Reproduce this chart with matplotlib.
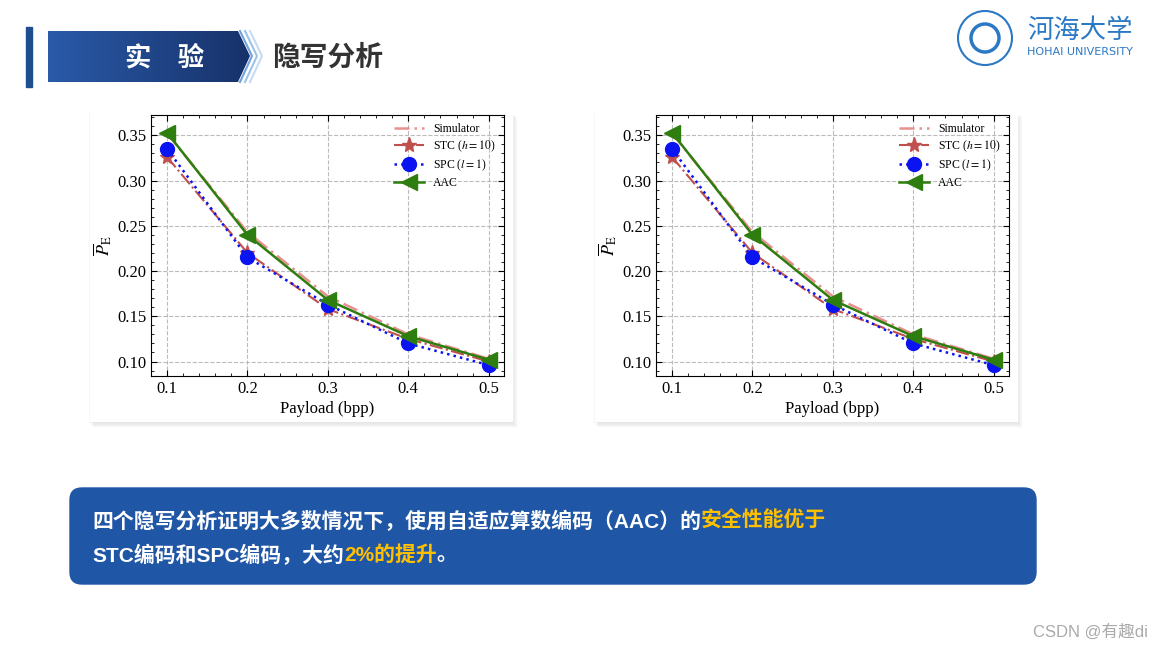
import matplotlib
matplotlib.use("Agg")
import matplotlib.pyplot as plt
from matplotlib.patches import FancyBboxPatch, Rectangle, Polygon
from matplotlib.ticker import AutoMinorLocator
from matplotlib.colors import LinearSegmentedColormap
import numpy as np

payload = [0.1, 0.2, 0.3, 0.4, 0.5]
simulator = [0.352, 0.243, 0.172, 0.130, 0.103]
stc = [0.326, 0.220, 0.158, 0.125, 0.100]
spc = [0.335, 0.215, 0.163, 0.120, 0.096]
aac = [0.353, 0.240, 0.168, 0.128, 0.102]
xticks = [0.1, 0.2, 0.3, 0.4, 0.5]
yticks = [0.10, 0.15, 0.20, 0.25, 0.30, 0.35]

W, H = 1153, 650
fig = plt.figure(figsize=(W/100, H/100), dpi=100)
fig.patch.set_facecolor("white")
plt.rcParams['mathtext.fontset'] = 'stix'
CJK = ['Noto Sans CJK SC', 'DejaVu Sans']
MIX = ['Liberation Sans', 'Noto Sans CJK SC']

def px(x0, y0, w, h):
    return [x0/W, 1-(y0+h)/H, w/W, h/H]

bg = fig.add_axes([0, 0, 1, 1])
bg.set_xlim(0, W); bg.set_ylim(H, 0); bg.axis('off')

# header
bg.add_patch(Rectangle((26, 27), 6, 60, color="#1d4f8f"))
grad = np.linspace(0, 1, 200).reshape(1, -1)
cm = LinearSegmentedColormap.from_list("g", ["#2a5aa8", "#17326a"])
im = bg.imshow(grad, cmap=cm, extent=(48, 250, 82, 31), aspect='auto', zorder=1)
clip = Polygon([(48, 25), (85, 25), (100, 31), (238, 31), (250, 56), (238, 82), (48, 88)], closed=True, transform=bg.transData)
im.set_clip_path(clip)
for i, c in enumerate(["#6fa3dc", "#9cc3ea", "#c4dcf3"]):
    o = 240 + i*5
    bg.plot([o, o+12, o], [31, 56, 82], color=c, lw=1.5)
bg.text(165, 58, "实　验", color="white", fontsize=19, fontweight='bold', family=CJK, ha='center', va='center')
bg.text(272, 58, "隐写分析", color="#333333", fontsize=20, fontweight='bold', family=CJK, va='center')

# logo
bg.add_patch(plt.Circle((985, 38), 27, fill=False, color="#2b78c4", lw=1.5))
bg.add_patch(plt.Circle((985, 38), 14, fill=False, color="#2b78c4", lw=2.5))
bg.text(1080, 30, "河海大学", color="#2b78c4", fontsize=19, family=CJK, ha='center', va='center')
bg.text(1080, 52, "HOHAI UNIVERSITY", color="#2b78c4", fontsize=8, ha='center', va='center')

# chart panels
for x0 in (90, 595):
    for k in range(3):
        bg.add_patch(Rectangle((x0-1+k*2, 113+k*2), 424, 310, color="#777777", alpha=0.08, lw=0, zorder=0))
    bg.add_patch(Rectangle((x0, 113), 422, 308, color="white", zorder=0.5))

def chart(rect):
    ax = fig.add_axes(rect)
    ax.plot(payload, simulator, color="#e8908e", ls=(0, (6, 2, 1, 2)), lw=1.8, label="Simulator")
    ax.plot(payload, stc, color="#c0504d", ls='-.', lw=1.5, marker='*', ms=11, label="STC ($h=10$)")
    ax.plot(payload, spc, color="#0a14f0", ls=':', lw=1.8, marker='o', ms=10, label="SPC ($l=1$)")
    ax.plot(payload, aac, color="#2e7d0f", ls='-', lw=1.8, marker='<', ms=11, label="AAC")
    ax.set_xlim(0.08, 0.519); ax.set_ylim(0.084, 0.3725)
    ax.set_xticks(xticks); ax.set_yticks(yticks)
    ax.set_xticklabels([f"{v:.1f}" for v in xticks], family='Liberation Serif', fontsize=12)
    ax.set_yticklabels([f"{v:.2f}" for v in yticks], family='Liberation Serif', fontsize=12)
    ax.xaxis.set_minor_locator(AutoMinorLocator(5))
    ax.yaxis.set_minor_locator(AutoMinorLocator(5))
    ax.tick_params(which='both', direction='in', top=True, right=True)
    ax.tick_params(which='major', length=4); ax.tick_params(which='minor', length=2)
    ax.grid(True, which='major', ls='--', color='#bbbbbb', lw=0.8)
    ax.set_xlabel("Payload (bpp)", family='Liberation Serif', fontsize=12, labelpad=3)
    ax.set_ylabel(r"$\overline{P}_{\mathrm{E}}$", fontsize=13, labelpad=2)
    ax.legend(loc='upper right', frameon=False, prop={'family': 'Liberation Serif', 'size': 8.5},
              handlelength=2.5, labelspacing=0.3, borderaxespad=0.3)

chart(px(151, 115, 353, 261))
chart(px(656, 115, 353, 261))

# bottom text box
bg.add_patch(FancyBboxPatch((70, 488), 966, 96, boxstyle="round,pad=0,rounding_size=12", color="#1f56a6"))
fig.canvas.draw()
r = fig.canvas.get_renderer()
def seq(x, y, parts):
    for s, c in parts:
        t = bg.text(x, y, s, color=c, fontsize=15, fontweight='bold', family=MIX, va='center')
        x += t.get_window_extent(r).width
Y = "#ffc000"
seq(92, 521, [("四个隐写分析证明大多数情况下，使用自适应算数编码（AAC）的", "white"), ("安全性能优于", Y)])
seq(92, 555, [("STC编码和SPC编码，大约", "white"), ("2%的提升", Y), ("。", "white")])
bg.text(1148, 632, "CSDN @有趣di", color="#aaaaaa", fontsize=12, family=MIX, ha='right', va='center')

fig.savefig("out.png", dpi=100)
